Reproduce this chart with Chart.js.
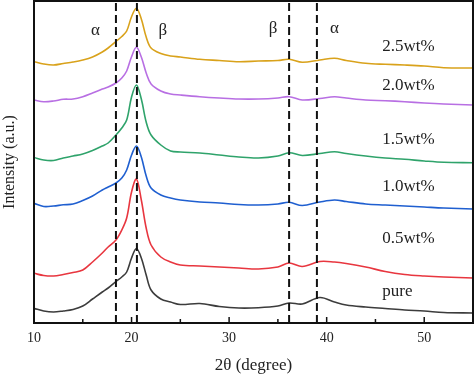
<!DOCTYPE html>
<html>
<head>
<meta charset="utf-8">
<script src="https://cdn.jsdelivr.net/npm/chart.js@4.4.1/dist/chart.umd.min.js"></script>
<style>
    html, body { margin: 0; padding: 0; background: #fff; }
    canvas { display: block; }
</style>
</head>
<body>
<canvas id="xrdChart" width="474" height="374"></canvas>
<script>
// 2theta positions (degree)
const twoTheta = [10, 11, 12, 13, 14, 15, 16, 17, 17.6, 18.4, 19, 19.5, 20, 20.5, 21, 21.5, 22, 23, 24, 25,
    27, 29, 31, 33, 35, 36.15, 37.5, 39.3, 40.8, 42, 44, 46, 48, 50, 52, 55];

// intensity (a.u., stacked with offsets as in the figure)
const pure = [14.7, 12, 11, 12, 13.5, 17, 24, 31, 35, 41.5, 46, 51, 65, 74.5, 65, 48, 33, 24, 21, 18.5,
    19.5, 16.5, 15, 15.3, 17, 20, 19, 25.5, 21, 18, 16, 14.5, 13, 12, 10.5, 10];
const wt05 = [49.7, 47.5, 47, 48.5, 50.5, 53, 61, 70, 76, 83, 93, 105, 131, 144, 123, 95, 78, 66, 61, 58,
    57, 56, 55, 54, 56, 60, 56.5, 61.5, 61, 59.5, 56, 51.5, 48.5, 47, 46, 45];
const wt10 = [119.7, 116.5, 117, 118.2, 119, 122.5, 127, 133, 136, 140, 145, 153, 168, 177, 166, 147, 135, 128, 125, 123,
    121, 120, 118.5, 118, 119, 120.7, 117.5, 121, 123, 121.5, 119, 118, 117, 116, 115, 114];
const wt15 = [165.5, 163, 162.5, 165, 167, 169, 172.5, 177, 180, 188, 195, 203, 226, 238, 224, 201, 188, 178, 172, 171,
    170, 168, 166, 165, 167, 170.3, 167.5, 169.5, 171.3, 169.5, 167, 165, 163.7, 162, 160.7, 160.3];
const wt20 = [223, 221.3, 222, 223.7, 224, 226.3, 230, 234, 236, 240, 245, 252, 266.3, 275.7, 266, 250, 239, 232, 229, 228,
    226.3, 225, 224, 224, 225, 226.3, 223, 224.5, 226.3, 225, 223, 222.3, 221.3, 220, 219, 218];
const wt25 = [261.3, 259, 258, 259.5, 261, 263, 266, 271, 275, 281.5, 286.5, 292, 306.3, 314.7, 304, 286, 275, 269.5, 267, 266,
    263.7, 262.5, 261.3, 262, 262.5, 263.7, 260.7, 263, 264.7, 262.5, 259.7, 258.7, 258, 257, 255.3, 255];

const seriesNames = ["2.5wt%", "2.0wt%", "1.5wt%", "1.0wt%", "0.5wt%", "pure"];
const seriesLabelY = [276, 237, 183, 136, 84, 31];
const seriesColors = ["#d9a21b", "#b86fe3", "#2fa36b", "#1f5fd0", "#e8363f", "#3c3c3c"];

// dashed reference lines (phase peaks)
const phaseLines = [18.4, 20.55, 36.15, 39.0];
const phaseNames = ["α", "β", "β", "α"];
const phaseLabelX = [16.3, 23.2, 34.5, 40.8];
const phaseLabelY = [292, 292, 294, 294];

const xTicks = [10, 20, 30, 40, 50];
const xMinorTicks = [15, 25, 35, 45];

const YMAX = 322;
const serif = "'Liberation Serif', 'DejaVu Serif', serif";

function toPoints(ys) {
    return twoTheta.map((x, i) => ({ x: x, y: ys[i] }));
}

const curves = [wt25, wt20, wt15, wt10, wt05, pure];

let datasets = [];
phaseLines.forEach(px => {
    datasets.push({
        data: [{ x: px, y: 0 }, { x: px, y: YMAX }],
        borderColor: "#111",
        borderWidth: 2,
        borderDash: [8, 4],
        pointRadius: 0,
        tension: 0
    });
});
curves.forEach((ys, i) => {
    datasets.push({
        label: seriesNames[i],
        data: toPoints(ys),
        borderColor: seriesColors[i],
        borderWidth: 1.6,
        pointRadius: 0,
        tension: 0.35
    });
});

// frame, inner ticks and text annotations
const decorations = {
    id: "decorations",
    afterDatasetsDraw(chart) {
        const ctx = chart.ctx;
        const a = chart.chartArea;
        const xs = chart.scales.x;
        const ys = chart.scales.y;
        ctx.save();
        ctx.strokeStyle = "#111";
        ctx.lineWidth = 2;
        ctx.strokeRect(a.left, a.top, a.right - a.left, a.bottom - a.top);

        ctx.lineWidth = 1.5;
        xTicks.forEach(v => {
            const p = xs.getPixelForValue(v);
            ctx.beginPath();
            ctx.moveTo(p, a.bottom);
            ctx.lineTo(p, a.bottom - 6);
            ctx.stroke();
        });
        xMinorTicks.forEach(v => {
            const p = xs.getPixelForValue(v);
            ctx.beginPath();
            ctx.moveTo(p, a.bottom);
            ctx.lineTo(p, a.bottom - 4);
            ctx.stroke();
        });

        ctx.fillStyle = "#222";
        ctx.textBaseline = "middle";
        ctx.font = "17px " + serif;
        ctx.textAlign = "left";
        seriesNames.forEach((name, i) => {
            ctx.fillText(name, xs.getPixelForValue(45.7), ys.getPixelForValue(seriesLabelY[i]));
        });
        ctx.textAlign = "center";
        phaseNames.forEach((name, i) => {
            ctx.fillText(name, xs.getPixelForValue(phaseLabelX[i]), ys.getPixelForValue(phaseLabelY[i]));
        });
        ctx.restore();
    }
};

new Chart(document.getElementById("xrdChart"), {
    type: "line",
    data: { datasets: datasets },
    options: {
        responsive: false,
        animation: false,
        layout: { padding: { top: 1, right: 1, left: 0, bottom: 0 } },
        plugins: {
            legend: { display: false },
            tooltip: { enabled: false }
        },
        scales: {
            x: {
                type: "linear",
                min: 10,
                max: 55,
                afterBuildTicks: scale => {
                    scale.ticks = xTicks.map(v => ({ value: v }));
                },
                afterFit: scale => { scale.height = 51; },
                grid: { display: false, drawTicks: false },
                border: { display: false },
                ticks: {
                    padding: 7,
                    color: "#222",
                    font: { family: serif, size: 14 }
                },
                title: {
                    display: true,
                    text: "2θ (degree)",
                    color: "#222",
                    padding: { top: 0, bottom: -2 },
                    font: { family: serif, size: 17 }
                }
            },
            y: {
                type: "linear",
                min: 0,
                max: YMAX,
                afterFit: scale => { scale.width = 34; },
                grid: { display: false, drawTicks: false },
                border: { display: false },
                ticks: { display: false },
                title: {
                    display: true,
                    text: "Intensity (a.u.)",
                    color: "#222",
                    padding: { top: 0, bottom: 0 },
                    font: { family: serif, size: 16 }
                }
            }
        }
    },
    plugins: [decorations]
});
</script>
</body>
</html>
